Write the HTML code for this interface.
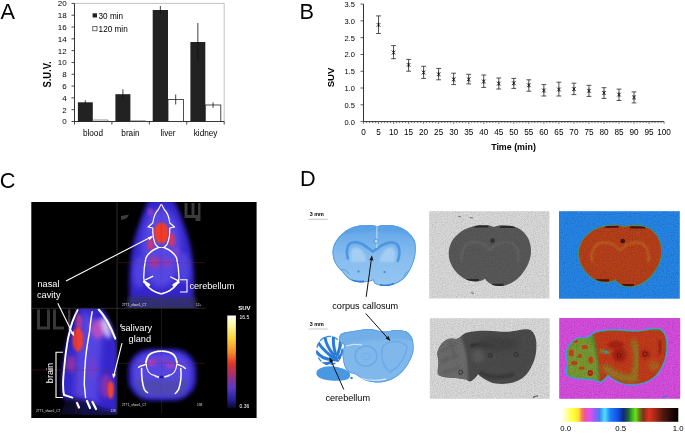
<!DOCTYPE html>
<html><head><meta charset="utf-8"><title>Figure</title>
<style>
html,body{margin:0;padding:0;background:#fff;}
body{width:685px;height:434px;overflow:hidden;font-family:"Liberation Sans",sans-serif;}
svg{display:block;}
text{font-family:"Liberation Sans",sans-serif;fill:#000;}
.pl{font-size:21.7px;fill:#000;}
.t7{font-size:7.5px;}
.t8{font-size:8.2px;}
.t9{font-size:9.15px;}
.b{font-weight:bold;}
.wt{fill:#fff;}
</style></head><body>
<svg width="685" height="434" viewBox="0 0 685 434">
<defs>
<filter id="bl1" x="-50%" y="-50%" width="200%" height="200%"><feGaussianBlur stdDeviation="1"/></filter>
<filter id="bl2" x="-50%" y="-50%" width="200%" height="200%"><feGaussianBlur stdDeviation="2"/></filter>
<filter id="bl3" x="-50%" y="-50%" width="200%" height="200%"><feGaussianBlur stdDeviation="3"/></filter>
<filter id="bl05" x="-50%" y="-50%" width="200%" height="200%"><feGaussianBlur stdDeviation="0.5"/></filter>
<linearGradient id="suvbar" x1="0" y1="0" x2="0" y2="1">
<stop offset="0" stop-color="#ffffff"/><stop offset="0.1" stop-color="#fff9a0"/><stop offset="0.25" stop-color="#ffd23a"/>
<stop offset="0.4" stop-color="#f58a2a"/><stop offset="0.52" stop-color="#e0352a"/><stop offset="0.65" stop-color="#a03078"/>
<stop offset="0.78" stop-color="#5a38c8"/><stop offset="0.9" stop-color="#2a22a0"/><stop offset="1" stop-color="#0a0830"/>
</linearGradient>
<linearGradient id="cbar" x1="0" y1="0" x2="1" y2="0"><stop offset="0.000" stop-color="#ffffff"/><stop offset="0.040" stop-color="#ffffa8"/><stop offset="0.105" stop-color="#ffff30"/><stop offset="0.146" stop-color="#ffe030"/><stop offset="0.170" stop-color="#f48a58"/><stop offset="0.200" stop-color="#f050a0"/><stop offset="0.244" stop-color="#e050f0"/><stop offset="0.285" stop-color="#9060f0"/><stop offset="0.325" stop-color="#4080f0"/><stop offset="0.370" stop-color="#50e0ff"/><stop offset="0.415" stop-color="#2080f8"/><stop offset="0.480" stop-color="#1050e8"/><stop offset="0.530" stop-color="#102880"/><stop offset="0.570" stop-color="#206030"/><stop offset="0.610" stop-color="#40c020"/><stop offset="0.634" stop-color="#70e010"/><stop offset="0.667" stop-color="#608020"/><stop offset="0.700" stop-color="#803018"/><stop offset="0.748" stop-color="#e03020"/><stop offset="0.805" stop-color="#a02818"/><stop offset="0.870" stop-color="#501810"/><stop offset="0.935" stop-color="#280808"/><stop offset="1.000" stop-color="#000000"/></linearGradient>
</defs>

<g id="panelA">
<text class="pl" x="0.6" y="19.3">A</text>
<path d="M74.5 3.4H224.2V121.5" fill="none" stroke="#999" stroke-width="0.6"/>
<path d="M74.5 3.4V121.5H224.2" fill="none" stroke="#333" stroke-width="1"/>
<line x1="71.5" y1="121.50" x2="74.5" y2="121.50" stroke="#333" stroke-width="0.9"/>
<text font-size="8" x="66.6" y="124.40" text-anchor="end">0</text>
<line x1="71.5" y1="109.69" x2="74.5" y2="109.69" stroke="#333" stroke-width="0.9"/>
<text font-size="8" x="66.6" y="112.59" text-anchor="end">2</text>
<line x1="71.5" y1="97.88" x2="74.5" y2="97.88" stroke="#333" stroke-width="0.9"/>
<text font-size="8" x="66.6" y="100.78" text-anchor="end">4</text>
<line x1="71.5" y1="86.07" x2="74.5" y2="86.07" stroke="#333" stroke-width="0.9"/>
<text font-size="8" x="66.6" y="88.97" text-anchor="end">6</text>
<line x1="71.5" y1="74.26" x2="74.5" y2="74.26" stroke="#333" stroke-width="0.9"/>
<text font-size="8" x="66.6" y="77.16" text-anchor="end">8</text>
<line x1="71.5" y1="62.45" x2="74.5" y2="62.45" stroke="#333" stroke-width="0.9"/>
<text font-size="8" x="66.6" y="65.35" text-anchor="end">10</text>
<line x1="71.5" y1="50.64" x2="74.5" y2="50.64" stroke="#333" stroke-width="0.9"/>
<text font-size="8" x="66.6" y="53.54" text-anchor="end">12</text>
<line x1="71.5" y1="38.83" x2="74.5" y2="38.83" stroke="#333" stroke-width="0.9"/>
<text font-size="8" x="66.6" y="41.73" text-anchor="end">14</text>
<line x1="71.5" y1="27.02" x2="74.5" y2="27.02" stroke="#333" stroke-width="0.9"/>
<text font-size="8" x="66.6" y="29.92" text-anchor="end">16</text>
<line x1="71.5" y1="15.21" x2="74.5" y2="15.21" stroke="#333" stroke-width="0.9"/>
<text font-size="8" x="66.6" y="18.11" text-anchor="end">18</text>
<line x1="71.5" y1="3.40" x2="74.5" y2="3.40" stroke="#333" stroke-width="0.9"/>
<text font-size="8" x="66.6" y="6.30" text-anchor="end">20</text>
<line x1="74.50" y1="121.5" x2="74.50" y2="124.5" stroke="#333" stroke-width="0.9"/>
<line x1="111.92" y1="121.5" x2="111.92" y2="124.5" stroke="#333" stroke-width="0.9"/>
<line x1="149.35" y1="121.5" x2="149.35" y2="124.5" stroke="#333" stroke-width="0.9"/>
<line x1="186.77" y1="121.5" x2="186.77" y2="124.5" stroke="#333" stroke-width="0.9"/>
<line x1="224.20" y1="121.5" x2="224.20" y2="124.5" stroke="#333" stroke-width="0.9"/>
<rect x="77.9" y="102.3" width="14.90" height="19.20" fill="#222"/>
<path d="M92.8 120.0H108V121.5" fill="none" stroke="#666" stroke-width="0.7"/>
<line x1="85.35" y1="100.3" x2="85.35" y2="104.3" stroke="#111" stroke-width="0.8"/>
<text class="t8" x="92.95" y="135.7" text-anchor="middle">blood</text>
<rect x="115.4" y="94.2" width="15.00" height="27.30" fill="#222"/>
<path d="M130.4 120.8H145.5V121.5" fill="none" stroke="#666" stroke-width="0.7"/>
<line x1="122.90" y1="89.3" x2="122.90" y2="99.0" stroke="#111" stroke-width="0.8"/>
<text class="t8" x="130.45" y="135.7" text-anchor="middle">brain</text>
<rect x="152.7" y="10.0" width="15.30" height="111.50" fill="#222"/>
<rect x="168" y="99.4" width="15.40" height="22.10" fill="#fff" stroke="#222" stroke-width="0.8"/>
<line x1="160.35" y1="6.0" x2="160.35" y2="14.0" stroke="#111" stroke-width="0.8"/>
<line x1="175.70" y1="94.5" x2="175.70" y2="104.5" stroke="#111" stroke-width="0.8"/>
<text class="t8" x="168.05" y="135.7" text-anchor="middle">liver</text>
<rect x="190.4" y="42.0" width="14.90" height="79.50" fill="#222"/>
<rect x="205.3" y="105.0" width="15.50" height="16.50" fill="#fff" stroke="#222" stroke-width="0.8"/>
<line x1="197.85" y1="23.0" x2="197.85" y2="61.5" stroke="#111" stroke-width="0.8"/>
<line x1="213.05" y1="102.3" x2="213.05" y2="107.8" stroke="#111" stroke-width="0.8"/>
<text class="t8" x="205.60" y="135.7" text-anchor="middle">kidney</text>
<rect x="92.6" y="13.3" width="4.4" height="4.2" fill="#222"/>
<text class="t8" x="98.5" y="18.8">30 min</text>
<rect x="92.8" y="26.4" width="4.2" height="4.4" fill="#fff" stroke="#333" stroke-width="0.7"/>
<text class="t8" x="98.6" y="31.7">120 min</text>
<text class="b" font-size="11" transform="translate(51.4 74.4) rotate(-90) scale(0.85 1)" text-anchor="middle">S.U.V.</text>
</g>
<g id="panelB">
<text class="pl" x="299.6" y="19.1">B</text>
<path d="M363.5 4.1V121.6H664.10" fill="none" stroke="#333" stroke-width="1"/>
<line x1="360.5" y1="121.60" x2="363.5" y2="121.60" stroke="#333" stroke-width="0.8"/>
<text x="354.9" y="124.60" font-size="7.5" text-anchor="end">0.0</text>
<line x1="360.5" y1="104.81" x2="363.5" y2="104.81" stroke="#333" stroke-width="0.8"/>
<text x="354.9" y="107.81" font-size="7.5" text-anchor="end">0.5</text>
<line x1="360.5" y1="88.03" x2="363.5" y2="88.03" stroke="#333" stroke-width="0.8"/>
<text x="354.9" y="91.03" font-size="7.5" text-anchor="end">1.0</text>
<line x1="360.5" y1="71.24" x2="363.5" y2="71.24" stroke="#333" stroke-width="0.8"/>
<text x="354.9" y="74.24" font-size="7.5" text-anchor="end">1.5</text>
<line x1="360.5" y1="54.46" x2="363.5" y2="54.46" stroke="#333" stroke-width="0.8"/>
<text x="354.9" y="57.46" font-size="7.5" text-anchor="end">2.0</text>
<line x1="360.5" y1="37.67" x2="363.5" y2="37.67" stroke="#333" stroke-width="0.8"/>
<text x="354.9" y="40.67" font-size="7.5" text-anchor="end">2.5</text>
<line x1="360.5" y1="20.89" x2="363.5" y2="20.89" stroke="#333" stroke-width="0.8"/>
<text x="354.9" y="23.89" font-size="7.5" text-anchor="end">3.0</text>
<line x1="360.5" y1="4.10" x2="363.5" y2="4.10" stroke="#333" stroke-width="0.8"/>
<text x="354.9" y="7.10" font-size="7.5" text-anchor="end">3.5</text>
<line x1="363.50" y1="121.6" x2="363.50" y2="124.0" stroke="#333" stroke-width="0.6"/>
<line x1="366.51" y1="121.6" x2="366.51" y2="123.1" stroke="#333" stroke-width="0.6"/>
<line x1="369.51" y1="121.6" x2="369.51" y2="123.1" stroke="#333" stroke-width="0.6"/>
<line x1="372.52" y1="121.6" x2="372.52" y2="123.1" stroke="#333" stroke-width="0.6"/>
<line x1="375.52" y1="121.6" x2="375.52" y2="123.1" stroke="#333" stroke-width="0.6"/>
<line x1="378.53" y1="121.6" x2="378.53" y2="124.0" stroke="#333" stroke-width="0.6"/>
<line x1="381.54" y1="121.6" x2="381.54" y2="123.1" stroke="#333" stroke-width="0.6"/>
<line x1="384.54" y1="121.6" x2="384.54" y2="123.1" stroke="#333" stroke-width="0.6"/>
<line x1="387.55" y1="121.6" x2="387.55" y2="123.1" stroke="#333" stroke-width="0.6"/>
<line x1="390.55" y1="121.6" x2="390.55" y2="123.1" stroke="#333" stroke-width="0.6"/>
<line x1="393.56" y1="121.6" x2="393.56" y2="124.0" stroke="#333" stroke-width="0.6"/>
<line x1="396.57" y1="121.6" x2="396.57" y2="123.1" stroke="#333" stroke-width="0.6"/>
<line x1="399.57" y1="121.6" x2="399.57" y2="123.1" stroke="#333" stroke-width="0.6"/>
<line x1="402.58" y1="121.6" x2="402.58" y2="123.1" stroke="#333" stroke-width="0.6"/>
<line x1="405.58" y1="121.6" x2="405.58" y2="123.1" stroke="#333" stroke-width="0.6"/>
<line x1="408.59" y1="121.6" x2="408.59" y2="124.0" stroke="#333" stroke-width="0.6"/>
<line x1="411.60" y1="121.6" x2="411.60" y2="123.1" stroke="#333" stroke-width="0.6"/>
<line x1="414.60" y1="121.6" x2="414.60" y2="123.1" stroke="#333" stroke-width="0.6"/>
<line x1="417.61" y1="121.6" x2="417.61" y2="123.1" stroke="#333" stroke-width="0.6"/>
<line x1="420.61" y1="121.6" x2="420.61" y2="123.1" stroke="#333" stroke-width="0.6"/>
<line x1="423.62" y1="121.6" x2="423.62" y2="124.0" stroke="#333" stroke-width="0.6"/>
<line x1="426.63" y1="121.6" x2="426.63" y2="123.1" stroke="#333" stroke-width="0.6"/>
<line x1="429.63" y1="121.6" x2="429.63" y2="123.1" stroke="#333" stroke-width="0.6"/>
<line x1="432.64" y1="121.6" x2="432.64" y2="123.1" stroke="#333" stroke-width="0.6"/>
<line x1="435.64" y1="121.6" x2="435.64" y2="123.1" stroke="#333" stroke-width="0.6"/>
<line x1="438.65" y1="121.6" x2="438.65" y2="124.0" stroke="#333" stroke-width="0.6"/>
<line x1="441.66" y1="121.6" x2="441.66" y2="123.1" stroke="#333" stroke-width="0.6"/>
<line x1="444.66" y1="121.6" x2="444.66" y2="123.1" stroke="#333" stroke-width="0.6"/>
<line x1="447.67" y1="121.6" x2="447.67" y2="123.1" stroke="#333" stroke-width="0.6"/>
<line x1="450.67" y1="121.6" x2="450.67" y2="123.1" stroke="#333" stroke-width="0.6"/>
<line x1="453.68" y1="121.6" x2="453.68" y2="124.0" stroke="#333" stroke-width="0.6"/>
<line x1="456.69" y1="121.6" x2="456.69" y2="123.1" stroke="#333" stroke-width="0.6"/>
<line x1="459.69" y1="121.6" x2="459.69" y2="123.1" stroke="#333" stroke-width="0.6"/>
<line x1="462.70" y1="121.6" x2="462.70" y2="123.1" stroke="#333" stroke-width="0.6"/>
<line x1="465.70" y1="121.6" x2="465.70" y2="123.1" stroke="#333" stroke-width="0.6"/>
<line x1="468.71" y1="121.6" x2="468.71" y2="124.0" stroke="#333" stroke-width="0.6"/>
<line x1="471.72" y1="121.6" x2="471.72" y2="123.1" stroke="#333" stroke-width="0.6"/>
<line x1="474.72" y1="121.6" x2="474.72" y2="123.1" stroke="#333" stroke-width="0.6"/>
<line x1="477.73" y1="121.6" x2="477.73" y2="123.1" stroke="#333" stroke-width="0.6"/>
<line x1="480.73" y1="121.6" x2="480.73" y2="123.1" stroke="#333" stroke-width="0.6"/>
<line x1="483.74" y1="121.6" x2="483.74" y2="124.0" stroke="#333" stroke-width="0.6"/>
<line x1="486.75" y1="121.6" x2="486.75" y2="123.1" stroke="#333" stroke-width="0.6"/>
<line x1="489.75" y1="121.6" x2="489.75" y2="123.1" stroke="#333" stroke-width="0.6"/>
<line x1="492.76" y1="121.6" x2="492.76" y2="123.1" stroke="#333" stroke-width="0.6"/>
<line x1="495.76" y1="121.6" x2="495.76" y2="123.1" stroke="#333" stroke-width="0.6"/>
<line x1="498.77" y1="121.6" x2="498.77" y2="124.0" stroke="#333" stroke-width="0.6"/>
<line x1="501.78" y1="121.6" x2="501.78" y2="123.1" stroke="#333" stroke-width="0.6"/>
<line x1="504.78" y1="121.6" x2="504.78" y2="123.1" stroke="#333" stroke-width="0.6"/>
<line x1="507.79" y1="121.6" x2="507.79" y2="123.1" stroke="#333" stroke-width="0.6"/>
<line x1="510.79" y1="121.6" x2="510.79" y2="123.1" stroke="#333" stroke-width="0.6"/>
<line x1="513.80" y1="121.6" x2="513.80" y2="124.0" stroke="#333" stroke-width="0.6"/>
<line x1="516.81" y1="121.6" x2="516.81" y2="123.1" stroke="#333" stroke-width="0.6"/>
<line x1="519.81" y1="121.6" x2="519.81" y2="123.1" stroke="#333" stroke-width="0.6"/>
<line x1="522.82" y1="121.6" x2="522.82" y2="123.1" stroke="#333" stroke-width="0.6"/>
<line x1="525.82" y1="121.6" x2="525.82" y2="123.1" stroke="#333" stroke-width="0.6"/>
<line x1="528.83" y1="121.6" x2="528.83" y2="124.0" stroke="#333" stroke-width="0.6"/>
<line x1="531.84" y1="121.6" x2="531.84" y2="123.1" stroke="#333" stroke-width="0.6"/>
<line x1="534.84" y1="121.6" x2="534.84" y2="123.1" stroke="#333" stroke-width="0.6"/>
<line x1="537.85" y1="121.6" x2="537.85" y2="123.1" stroke="#333" stroke-width="0.6"/>
<line x1="540.85" y1="121.6" x2="540.85" y2="123.1" stroke="#333" stroke-width="0.6"/>
<line x1="543.86" y1="121.6" x2="543.86" y2="124.0" stroke="#333" stroke-width="0.6"/>
<line x1="546.87" y1="121.6" x2="546.87" y2="123.1" stroke="#333" stroke-width="0.6"/>
<line x1="549.87" y1="121.6" x2="549.87" y2="123.1" stroke="#333" stroke-width="0.6"/>
<line x1="552.88" y1="121.6" x2="552.88" y2="123.1" stroke="#333" stroke-width="0.6"/>
<line x1="555.88" y1="121.6" x2="555.88" y2="123.1" stroke="#333" stroke-width="0.6"/>
<line x1="558.89" y1="121.6" x2="558.89" y2="124.0" stroke="#333" stroke-width="0.6"/>
<line x1="561.90" y1="121.6" x2="561.90" y2="123.1" stroke="#333" stroke-width="0.6"/>
<line x1="564.90" y1="121.6" x2="564.90" y2="123.1" stroke="#333" stroke-width="0.6"/>
<line x1="567.91" y1="121.6" x2="567.91" y2="123.1" stroke="#333" stroke-width="0.6"/>
<line x1="570.91" y1="121.6" x2="570.91" y2="123.1" stroke="#333" stroke-width="0.6"/>
<line x1="573.92" y1="121.6" x2="573.92" y2="124.0" stroke="#333" stroke-width="0.6"/>
<line x1="576.93" y1="121.6" x2="576.93" y2="123.1" stroke="#333" stroke-width="0.6"/>
<line x1="579.93" y1="121.6" x2="579.93" y2="123.1" stroke="#333" stroke-width="0.6"/>
<line x1="582.94" y1="121.6" x2="582.94" y2="123.1" stroke="#333" stroke-width="0.6"/>
<line x1="585.94" y1="121.6" x2="585.94" y2="123.1" stroke="#333" stroke-width="0.6"/>
<line x1="588.95" y1="121.6" x2="588.95" y2="124.0" stroke="#333" stroke-width="0.6"/>
<line x1="591.96" y1="121.6" x2="591.96" y2="123.1" stroke="#333" stroke-width="0.6"/>
<line x1="594.96" y1="121.6" x2="594.96" y2="123.1" stroke="#333" stroke-width="0.6"/>
<line x1="597.97" y1="121.6" x2="597.97" y2="123.1" stroke="#333" stroke-width="0.6"/>
<line x1="600.97" y1="121.6" x2="600.97" y2="123.1" stroke="#333" stroke-width="0.6"/>
<line x1="603.98" y1="121.6" x2="603.98" y2="124.0" stroke="#333" stroke-width="0.6"/>
<line x1="606.99" y1="121.6" x2="606.99" y2="123.1" stroke="#333" stroke-width="0.6"/>
<line x1="609.99" y1="121.6" x2="609.99" y2="123.1" stroke="#333" stroke-width="0.6"/>
<line x1="613.00" y1="121.6" x2="613.00" y2="123.1" stroke="#333" stroke-width="0.6"/>
<line x1="616.00" y1="121.6" x2="616.00" y2="123.1" stroke="#333" stroke-width="0.6"/>
<line x1="619.01" y1="121.6" x2="619.01" y2="124.0" stroke="#333" stroke-width="0.6"/>
<line x1="622.02" y1="121.6" x2="622.02" y2="123.1" stroke="#333" stroke-width="0.6"/>
<line x1="625.02" y1="121.6" x2="625.02" y2="123.1" stroke="#333" stroke-width="0.6"/>
<line x1="628.03" y1="121.6" x2="628.03" y2="123.1" stroke="#333" stroke-width="0.6"/>
<line x1="631.03" y1="121.6" x2="631.03" y2="123.1" stroke="#333" stroke-width="0.6"/>
<line x1="634.04" y1="121.6" x2="634.04" y2="124.0" stroke="#333" stroke-width="0.6"/>
<line x1="637.05" y1="121.6" x2="637.05" y2="123.1" stroke="#333" stroke-width="0.6"/>
<line x1="640.05" y1="121.6" x2="640.05" y2="123.1" stroke="#333" stroke-width="0.6"/>
<line x1="643.06" y1="121.6" x2="643.06" y2="123.1" stroke="#333" stroke-width="0.6"/>
<line x1="646.06" y1="121.6" x2="646.06" y2="123.1" stroke="#333" stroke-width="0.6"/>
<line x1="649.07" y1="121.6" x2="649.07" y2="124.0" stroke="#333" stroke-width="0.6"/>
<line x1="652.08" y1="121.6" x2="652.08" y2="123.1" stroke="#333" stroke-width="0.6"/>
<line x1="655.08" y1="121.6" x2="655.08" y2="123.1" stroke="#333" stroke-width="0.6"/>
<line x1="658.09" y1="121.6" x2="658.09" y2="123.1" stroke="#333" stroke-width="0.6"/>
<line x1="661.09" y1="121.6" x2="661.09" y2="123.1" stroke="#333" stroke-width="0.6"/>
<line x1="664.10" y1="121.6" x2="664.10" y2="124.0" stroke="#333" stroke-width="0.6"/>
<text font-size="8.2" x="363.50" y="135" text-anchor="middle">0</text>
<text font-size="8.2" x="378.53" y="135" text-anchor="middle">5</text>
<text font-size="8.2" x="393.56" y="135" text-anchor="middle">10</text>
<text font-size="8.2" x="408.59" y="135" text-anchor="middle">15</text>
<text font-size="8.2" x="423.62" y="135" text-anchor="middle">20</text>
<text font-size="8.2" x="438.65" y="135" text-anchor="middle">25</text>
<text font-size="8.2" x="453.68" y="135" text-anchor="middle">30</text>
<text font-size="8.2" x="468.71" y="135" text-anchor="middle">35</text>
<text font-size="8.2" x="483.74" y="135" text-anchor="middle">40</text>
<text font-size="8.2" x="498.77" y="135" text-anchor="middle">45</text>
<text font-size="8.2" x="513.80" y="135" text-anchor="middle">50</text>
<text font-size="8.2" x="528.83" y="135" text-anchor="middle">55</text>
<text font-size="8.2" x="543.86" y="135" text-anchor="middle">60</text>
<text font-size="8.2" x="558.89" y="135" text-anchor="middle">65</text>
<text font-size="8.2" x="573.92" y="135" text-anchor="middle">70</text>
<text font-size="8.2" x="588.95" y="135" text-anchor="middle">75</text>
<text font-size="8.2" x="603.98" y="135" text-anchor="middle">80</text>
<text font-size="8.2" x="619.01" y="135" text-anchor="middle">85</text>
<text font-size="8.2" x="634.04" y="135" text-anchor="middle">90</text>
<text font-size="8.2" x="649.07" y="135" text-anchor="middle">95</text>
<text font-size="8.2" x="664.10" y="135" text-anchor="middle">100</text>
<path d="M378.53 15.9V33.5M376.13 15.9h4.8M376.13 33.5h4.8" stroke="#333" stroke-width="0.85" fill="none"/>
<path d="M376.63 23.0l3.8 3.8M376.63 26.799999999999997l3.8 -3.8M378.53 22.599999999999998v4.6" stroke="#111" stroke-width="0.8" fill="none"/>
<path d="M393.56 45.6V58.7M391.16 45.6h4.8M391.16 58.7h4.8" stroke="#333" stroke-width="0.85" fill="none"/>
<path d="M391.66 50.6l3.8 3.8M391.66 54.4l3.8 -3.8M393.56 50.2v4.6" stroke="#111" stroke-width="0.8" fill="none"/>
<path d="M408.59 59.4V71.2M406.19 59.4h4.8M406.19 71.2h4.8" stroke="#333" stroke-width="0.85" fill="none"/>
<path d="M406.69 63.00000000000001l3.8 3.8M406.69 66.80000000000001l3.8 -3.8M408.59 62.60000000000001v4.6" stroke="#111" stroke-width="0.8" fill="none"/>
<path d="M423.62 66.3V78.4M421.22 66.3h4.8M421.22 78.4h4.8" stroke="#333" stroke-width="0.85" fill="none"/>
<path d="M421.72 70.6l3.8 3.8M421.72 74.4l3.8 -3.8M423.62 70.2v4.6" stroke="#111" stroke-width="0.8" fill="none"/>
<path d="M438.65 68.4V79.8M436.25 68.4h4.8M436.25 79.8h4.8" stroke="#333" stroke-width="0.85" fill="none"/>
<path d="M436.75 72.39999999999999l3.8 3.8M436.75 76.2l3.8 -3.8M438.65 72.0v4.6" stroke="#111" stroke-width="0.8" fill="none"/>
<path d="M453.68 73.2V84.6M451.28 73.2h4.8M451.28 84.6h4.8" stroke="#333" stroke-width="0.85" fill="none"/>
<path d="M451.78 77.5l3.8 3.8M451.78 81.30000000000001l3.8 -3.8M453.68 77.10000000000001v4.6" stroke="#111" stroke-width="0.8" fill="none"/>
<path d="M468.71 74.3V83.9M466.31 74.3h4.8M466.31 83.9h4.8" stroke="#333" stroke-width="0.85" fill="none"/>
<path d="M466.81 77.5l3.8 3.8M466.81 81.30000000000001l3.8 -3.8M468.71 77.10000000000001v4.6" stroke="#111" stroke-width="0.8" fill="none"/>
<path d="M483.74 75V87.4M481.34 75h4.8M481.34 87.4h4.8" stroke="#333" stroke-width="0.85" fill="none"/>
<path d="M481.84 79.6l3.8 3.8M481.84 83.4l3.8 -3.8M483.74 79.2v4.6" stroke="#111" stroke-width="0.8" fill="none"/>
<path d="M498.77 78V89M496.37 78h4.8M496.37 89h4.8" stroke="#333" stroke-width="0.85" fill="none"/>
<path d="M496.87 81.69999999999999l3.8 3.8M496.87 85.5l3.8 -3.8M498.77 81.3v4.6" stroke="#111" stroke-width="0.8" fill="none"/>
<path d="M513.80 78.4V88.4M511.40 78.4h4.8M511.40 88.4h4.8" stroke="#333" stroke-width="0.85" fill="none"/>
<path d="M511.90 81.3l3.8 3.8M511.90 85.10000000000001l3.8 -3.8M513.80 80.9v4.6" stroke="#111" stroke-width="0.8" fill="none"/>
<path d="M528.83 79.8V91.2M526.43 79.8h4.8M526.43 91.2h4.8" stroke="#333" stroke-width="0.85" fill="none"/>
<path d="M526.93 83.39999999999999l3.8 3.8M526.93 87.2l3.8 -3.8M528.83 83.0v4.6" stroke="#111" stroke-width="0.8" fill="none"/>
<path d="M543.86 84.6V96M541.46 84.6h4.8M541.46 96h4.8" stroke="#333" stroke-width="0.85" fill="none"/>
<path d="M541.96 88.6l3.8 3.8M541.96 92.4l3.8 -3.8M543.86 88.2v4.6" stroke="#111" stroke-width="0.8" fill="none"/>
<path d="M558.89 82.2V96M556.49 82.2h4.8M556.49 96h4.8" stroke="#333" stroke-width="0.85" fill="none"/>
<path d="M556.99 87.6l3.8 3.8M556.99 91.4l3.8 -3.8M558.89 87.2v4.6" stroke="#111" stroke-width="0.8" fill="none"/>
<path d="M573.92 83.2V94.6M571.52 83.2h4.8M571.52 94.6h4.8" stroke="#333" stroke-width="0.85" fill="none"/>
<path d="M572.02 87.19999999999999l3.8 3.8M572.02 91.0l3.8 -3.8M573.92 86.8v4.6" stroke="#111" stroke-width="0.8" fill="none"/>
<path d="M588.95 85.3V96.4M586.55 85.3h4.8M586.55 96.4h4.8" stroke="#333" stroke-width="0.85" fill="none"/>
<path d="M587.05 88.89999999999999l3.8 3.8M587.05 92.7l3.8 -3.8M588.95 88.5v4.6" stroke="#111" stroke-width="0.8" fill="none"/>
<path d="M603.98 87.7V98.4M601.58 87.7h4.8M601.58 98.4h4.8" stroke="#333" stroke-width="0.85" fill="none"/>
<path d="M602.08 91.0l3.8 3.8M602.08 94.80000000000001l3.8 -3.8M603.98 90.60000000000001v4.6" stroke="#111" stroke-width="0.8" fill="none"/>
<path d="M619.01 89.1V100.5M616.61 89.1h4.8M616.61 100.5h4.8" stroke="#333" stroke-width="0.85" fill="none"/>
<path d="M617.11 92.69999999999999l3.8 3.8M617.11 96.5l3.8 -3.8M619.01 92.3v4.6" stroke="#111" stroke-width="0.8" fill="none"/>
<path d="M634.04 91.9V102.9M631.64 91.9h4.8M631.64 102.9h4.8" stroke="#333" stroke-width="0.85" fill="none"/>
<path d="M632.14 95.5l3.8 3.8M632.14 99.30000000000001l3.8 -3.8M634.04 95.10000000000001v4.6" stroke="#111" stroke-width="0.8" fill="none"/>
<text class="b" font-size="9.6" transform="translate(334.1 77.5) rotate(-90)" text-anchor="middle">SUV</text>
<text class="b" font-size="8.9" x="513.5" y="149.6" text-anchor="middle">Time (min)</text>
</g><g id="panelC">
<text class="pl" x="-0.2" y="188.2">C</text>
<rect x="31.3" y="202" width="225.3" height="216" fill="#000"/>
<clipPath id="cTR"><rect x="117.5" y="202" width="88" height="106"/></clipPath>
<clipPath id="cBL"><rect x="31.3" y="308.5" width="85.5" height="106"/></clipPath>
<clipPath id="cBR"><rect x="117.5" y="308.5" width="88" height="106"/></clipPath>
<g clip-path="url(#cTR)">
<path d="M184.5 203h3v12h4v-12h3v12h3.5v-12h2.5v18h-5v-3h-11z" fill="#3a3a3a" filter="url(#bl05)"/>
<path d="M121 216l8 -1.5l-2.5 4l-5.5 1.5z" fill="#3c3c3c" filter="url(#bl05)"/>
<path d="M148 201 C152 198.5 170 198.5 174 201 C178 208 181 215 183 222 C186 230 189 238 190.5 247 C193 260 194.5 272 194 285 L193 310 L130 310 L129.5 285 C129 272 130.5 260 132.5 247 C134 238 137 230 140 222 C142 215 145 208 148 201Z" fill="#3426cc" filter="url(#bl2)"/>
<ellipse cx="161" cy="248" rx="20" ry="40" fill="#6252ec" opacity="0.75" filter="url(#bl3)"/>
<ellipse cx="139" cy="272" rx="6" ry="16" fill="#6252ec" opacity="0.6" filter="url(#bl2)"/>
<ellipse cx="184" cy="268" rx="6" ry="16" fill="#6252ec" opacity="0.6" filter="url(#bl2)"/>
<path d="M128 297 L196 297 L198 312 L126 312Z" fill="#30305a" opacity="0.8" filter="url(#bl2)"/>
<ellipse cx="150.5" cy="212" rx="3" ry="4" fill="#9a44c4" opacity="0.7" filter="url(#bl1)"/>
<ellipse cx="176" cy="252" rx="4" ry="6" fill="#8a40c8" opacity="0.6" filter="url(#bl1)"/>
<ellipse cx="150.6" cy="244.3" rx="3.2" ry="6" fill="#c43874" filter="url(#bl1)"/>
<ellipse cx="171.6" cy="240" rx="3.8" ry="7" fill="#c43874" filter="url(#bl1)"/>
<ellipse cx="161.3" cy="233" rx="7.4" ry="10.5" fill="#f03c2c" filter="url(#bl1)"/>
<ellipse cx="154.5" cy="262" rx="5.5" ry="6" fill="#b03490" opacity="0.85" filter="url(#bl2)"/>
<ellipse cx="167" cy="263" rx="5" ry="5" fill="#9a38b0" opacity="0.7" filter="url(#bl2)"/>
<g fill="none" stroke="#fff" stroke-linecap="round" stroke-linejoin="round" filter="url(#bl05)">
<path d="M161 204.5 L158.2 209.7 C155.5 212 153.6 217 152.8 223 L148 227 L152.8 228 C152.5 234 153.5 240 155.5 244.5 L158.5 247.5" stroke-width="1.15"/>
<path d="M161.6 204.5 L164.4 209.7 C167 212 169 217 169.8 223 L174.6 227 L169.8 228 C170 234 169 240 167 244.5 L164 247.5" stroke-width="1.15"/>
<path d="M158.5 247.5 C152 250 147.5 254 145.8 258.3 C144.5 264 143.8 271 143.7 277.7 L144.4 281.8" stroke-width="1.35"/>
<path d="M164 247.5 C170.5 250 175 254 176.7 258.3 C178 264 178.8 271 179 277.7 L178.3 282.5" stroke-width="1.35"/>
<path d="M158.5 247.5 H164" stroke-width="1.2"/>
<path d="M146 284.5 C149 288.5 155 292.5 161.3 293.8 C167.5 292.5 173.5 288.5 176.5 284.5" stroke-width="1.7"/>
<path d="M144.4 281.8 l4.5 3 M178.3 282.2 l-4.5 3" stroke-width="2.8"/>
<path d="M145.8 279.7 L152.7 276.3 M170.7 277 L177.6 280.4" stroke-width="1.3"/>
</g>
<path d="M161.3 202V308M117.5 262.7H205.5" stroke="#8a2838" stroke-width="0.4" opacity="0.8" fill="none"/>
</g>
<g clip-path="url(#cBL)">
<path d="M37 309.5h3v17h7v-17h3v20h-13z M53 309.5h3v17h8v3h-11z M68 309.5h2.5v21h-2.5z" fill="#383838" filter="url(#bl05)"/>
<path d="M79 306 C73 320 67 338 64 358 C61 376 61 390 63 399 L75 402 L82 416 L118 416 L118 346 C114 330 108 316 100 306Z" fill="#3426cc" filter="url(#bl2)"/>
<path d="M84 309 C78 330 74 360 74 396 L98 404 L103 330 Z" fill="#6252ec" opacity="0.7" filter="url(#bl3)"/>
<path d="M66 398 L84 400 L100 408 L118 412 L118 418 L60 418Z" fill="#0c0a30" opacity="0.85" filter="url(#bl2)"/>
<ellipse cx="98" cy="329" rx="7" ry="10" fill="#c050c0" opacity="0.9" filter="url(#bl2)"/>
<ellipse cx="106" cy="328" rx="4" ry="11" fill="#e8e0ff" opacity="0.8" filter="url(#bl2)" transform="rotate(-18 106 328)"/>
<ellipse cx="71" cy="364" rx="4.5" ry="8" fill="#a83498" opacity="0.8" filter="url(#bl2)"/>
<ellipse cx="92" cy="368" rx="5" ry="12" fill="#7a3cc8" opacity="0.6" filter="url(#bl2)"/>
<ellipse cx="79" cy="322" rx="3.5" ry="8" fill="#b83c90" opacity="0.8" filter="url(#bl1)"/>
<ellipse cx="78" cy="339.4" rx="5.4" ry="12" fill="#ec3c30" filter="url(#bl1)"/>
<ellipse cx="106" cy="386" rx="6" ry="12" fill="#a834a0" opacity="0.7" filter="url(#bl2)"/>
<ellipse cx="110.7" cy="390" rx="3" ry="9" fill="#f4442c" filter="url(#bl1)"/>
<g fill="none" stroke="#fff" stroke-linecap="round" filter="url(#bl05)">
<path d="M77.6 310 C73.5 318 71 325 69.7 331.5 C68.5 336 67.6 340 67 344.7 C65.8 352 65 359 64.4 366 C63.6 373 63.1 379 63.1 384.4 C63.1 389 63.3 392 64 395 L72.4 397.6" stroke-width="1.9"/>
<path d="M92.2 311.6 C91 318 90.2 325 89.6 331.5 C88 340 86.5 349 85.6 358 C84.8 367 84.3 376 84.3 384.4 L85.6 397.6" stroke-width="1.4"/>
<path d="M98.7 309.5 C104 315 110 325 115.3 338.7" stroke-width="2.2" opacity="0.95"/>
<path d="M77 403 l2 4.5 M87 401 l3 7 M92.5 402 l3.5 7" stroke-width="2.2"/>
</g>
<path d="M76 308.5V414.5M31.3 370H116.8" stroke="#8a2838" stroke-width="0.4" opacity="0.8" fill="none"/>
</g>
<g clip-path="url(#cBR)">
<rect x="128.5" y="349" width="67.5" height="51.5" rx="23" ry="21" fill="#3426cc" filter="url(#bl2)"/>
<rect x="133" y="352.5" width="58" height="44" rx="20" ry="18" fill="#5e50e6" opacity="0.8" filter="url(#bl2)"/>
<path d="M134 380 H190 L184 396 H140Z" fill="#4a4a98" opacity="0.6" filter="url(#bl2)"/>
<ellipse cx="152" cy="362.7" rx="5" ry="3.6" fill="#b040c0" opacity="0.85" filter="url(#bl1)"/>
<ellipse cx="170" cy="365.5" rx="4.6" ry="3.4" fill="#a040c4" opacity="0.8" filter="url(#bl1)"/>
<ellipse cx="161" cy="360" rx="9" ry="4" fill="#7a40d0" opacity="0.6" filter="url(#bl1)"/>
<g fill="none" stroke="#fff" stroke-linecap="round" stroke-linejoin="round" filter="url(#bl05)">
<path d="M145.9 362.5 C146.3 359.8 147.2 357.4 148.5 355.5 C151.5 352.5 156.5 351.2 161.5 351.2 C166.5 351.2 171.4 352.5 174.4 355.5 C175.7 357.4 176.6 359.8 177 362.5" stroke-width="1.8"/>
<path d="M145.9 362.5 C146.2 366 147 369.5 148.5 372 C150 374 152.2 375 154.5 375.4 L158.5 376.8 M164.5 376.8 L168.4 375.4 C170.7 375 173 374 174.4 372 C176 369.5 176.7 366 177 362.5" stroke-width="1.1"/>
<path d="M138.7 367.3 C140 366.2 141.3 365.8 142.5 365.6 L145.9 364.2 M177 364.2 L181.3 365.9 C182.8 366.5 184.2 367.4 185.3 368.5" stroke-width="1.5"/>
<path d="M141.6 368.5 C141.4 372 141.7 376 142.1 379.7 C142.5 383 143.2 386.3 144.2 389.2 C145 390.8 146.2 392 147.6 392.7" stroke-width="1.5"/>
<path d="M180.8 368.5 C181.2 372 181.1 376 180.8 379.7 C180.4 383 179.7 386.3 178.7 389.2 C177.8 391 176.6 392.5 175.3 393.5" stroke-width="1.5"/>
<path d="M155 376.5 l3.5 1 M165 377.2 l4 -1.2" stroke-width="0.9"/>
</g>
<ellipse cx="161.5" cy="377" rx="2" ry="1.5" fill="#2014a8"/>
<path d="M161.5 308.5V414.5M117.5 363.3H205.5" stroke="#8a2838" stroke-width="0.4" opacity="0.8" fill="none"/>
</g>
<path d="M117 202V414.5M31.3 308.3H205.5" stroke="#3c3c3c" stroke-width="0.7" fill="none"/>
<text x="122" y="305.6" font-size="3.2" class="wt" opacity="0.85">2TT1_shaw1_CT</text>
<text x="196" y="305.6" font-size="3.2" class="wt" opacity="0.85">12+</text>
<text x="36" y="412" font-size="3.2" class="wt" opacity="0.85">2TT1_shaw1_CT</text>
<text x="122" y="405.5" font-size="3.2" class="wt" opacity="0.85">2TT1_shaw1_CT</text>
<text x="197" y="405.5" font-size="3.2" class="wt" opacity="0.85">158</text>
<text x="110.5" y="412" font-size="3.2" class="wt" opacity="0.85">128</text>
<rect x="227.3" y="315.5" width="8.6" height="92.5" fill="url(#suvbar)"/>
<text x="238.2" y="310.2" font-size="6" class="wt b">SUV</text>
<text x="239.5" y="319.3" font-size="5" class="wt">16.5</text>
<text x="239.5" y="408" font-size="5" class="wt">0.36</text>
<g class="wt" font-size="9.2">
<text x="37.5" y="286.6" class="wt">nasal</text>
<text x="37" y="297.6" class="wt">cavity</text>
<text x="189.4" y="289.4" class="wt">cerebellum</text>
<text x="120.9" y="330.7" class="wt">salivary</text>
<text x="128.6" y="341.5" class="wt">gland</text>
<text transform="translate(53.4 373) rotate(-90)" text-anchor="middle" class="wt">brain</text>
</g>
<g stroke="#fff" fill="none" stroke-width="1.1">
<path d="M66 281 L152 236.5"/>
<path d="M57.8 303.3 L73 334.3"/>
<path d="M122 343.2 L113.7 376.5 M121.2 324 l-0.5 3"/>
<path d="M180 279.8H187V292H180"/>
<path d="M63 352.2H56V397.5H63"/>
</g>
<g fill="#fff">
<path d="M153.5 235.7 L149.5 240.2 L148 237.2Z"/>
<path d="M74 336.3 L70.3 332.8 L73.7 331.2Z"/>
<path d="M113.2 378.6 L112.2 373.6 L115.8 374.5Z"/>
</g>
</g><g id="panelD">
<text class="pl" x="299.9" y="185.9">D</text>
<defs><path id="cor" d="M494.2 226.9 C490 225.2 486 225 482.6 225.3 C478 225.3 474 226 471.1 226.9 C466 228.5 462.5 230.3 459.6 232.7 C455.5 236 453 239 451.5 241.9 C449.5 246 448.7 250 448.7 253.4 C448.7 258 450 262 451.5 264.9 C453.5 269 456.5 272.5 459.6 275.3 C462.5 277.8 465.5 279.5 468.8 280.6 C472 281.6 475 281.8 478 281.5 C480.5 281.2 483 280 484.9 278.8 C486.5 281 489 283.3 491.8 284.5 C495 285.9 498 286.2 501.1 286.1 C505 285.8 509 284.3 512.6 282.2 C516 280.2 519.3 277.4 521.8 274.2 C524.8 270.6 527.2 266.8 528.7 262.6 C530.2 258.8 531 255 531 251.1 C531 247 530.2 243 528.7 239.6 C527.2 236 524.8 233 521.8 230.4 C519 228.2 516 227 512.6 226.2 C508.5 225.3 505 225.1 501.1 225.3 C498.5 225.5 496 226 494.2 226.9Z"/><path id="sag" d="M460.2 336.9 C462 335 464 333.7 466.5 332.7 C473 330.8 480 330.6 487.2 330.7 C494 330.8 501 332 508 331.7 C512 331.5 515 330.7 518.3 330.2 C522 329.6 525.5 329 528.7 329.6 C531 330.2 533 331.7 533.9 333.8 C535.5 336.8 536.2 340 536.3 343.1 C536.5 346.5 536.3 350 535.9 353.5 C535.3 357 534.3 360.5 532.8 363.8 C531.2 367.5 529.2 371 526.6 374.2 C524.3 376.8 521.5 378.9 518.3 380.4 C515 381.9 511.5 383 508 383.5 C504 384 499.5 384 495.5 383.5 C491.8 382.8 488.3 381.3 485.1 379.4 C482.5 377.8 480 376 477.9 374.2 C477 376 476 377.3 474.8 378.3 C473.5 379.6 472 380.8 470.6 381.5 C469 381.3 467.6 380.5 466.5 379.4 C463.8 379.3 461 378.7 458.2 378.3 C454 377.8 449.8 377.9 445.7 377.3 C442.8 376.8 439.7 376 437.9 374.2 C437.3 370.8 438 367.3 438.5 363.8 C438.8 360.4 437.3 357 437.4 353.5 C437.6 350.5 438.8 347.7 440.5 345.2 C442.3 342.6 444.9 340.4 447.8 339 C450.5 338.2 453.3 338.4 456.1 339 C457.7 338.6 459 337.8 460.2 336.9Z"/>
<filter id="nz" x="0" y="0" width="100%" height="100%"><feTurbulence type="fractalNoise" baseFrequency="0.9" numOctaves="2" seed="3" result="n"/><feColorMatrix in="n" type="matrix" values="0 0 0 0 0  0 0 0 0 0  0 0 0 0 0  0.9 0.9 0 0 -0.75"/><feComposite in2="SourceGraphic" operator="in"/></filter>
<clipPath id="ccor"><use href="#cor"/></clipPath><clipPath id="csag"><use href="#sag"/></clipPath>
<linearGradient id="bluefade" x1="0" y1="0" x2="0" y2="1"><stop offset="0" stop-color="#5fa4e8"/><stop offset="0.5" stop-color="#86bcee"/><stop offset="1" stop-color="#94c6f0"/></linearGradient>
</defs>
<text x="309.7" y="216.4" font-size="5.4" class="b" fill="#333">3 mm</text>
<line x1="308.5" y1="219.3" x2="327.7" y2="219.3" stroke="#888" stroke-width="0.5"/>
<text x="309.7" y="326.1" font-size="5.4" class="b" fill="#333">3 mm</text>
<line x1="308.5" y1="329.0" x2="327.7" y2="329.0" stroke="#888" stroke-width="0.5"/>
<path d="M377.7 226.4 C374 225.2 370 224.9 366.5 225 C362 225.1 357 225.8 353.2 227.1 C349.5 228.5 346 230.4 343.2 232.9 C340.2 235.3 337.6 238 335.8 241.2 C333.8 244.5 332.6 248.2 332.5 252 C332.5 255.8 333.4 259.5 335 262.8 C336.6 266 339 268.8 341.6 271.1 C343.8 273.8 345.8 276.5 348.2 278.5 C351.2 280.6 354.6 281.8 358.2 282.3 C361.5 282.7 365 282.5 368.1 281.8 C369.9 281.5 371.6 281 373.1 280.2 C373.6 281.5 374 282.6 374.8 283.5 C377.3 285 380.2 285.8 383 286 C385.8 286.2 388.6 286 391.3 285.2 C395.5 284 399.6 282 402.9 279.4 C406.4 276.2 409.2 272.2 411.2 267.7 C413.2 263.5 414.8 259 415.4 254.5 C415.8 250.6 415.9 246.7 415.4 242.9 C414.5 239.4 412.4 236.2 409.6 233.8 C406.8 230.8 403.4 228.6 399.6 227.1 C395.9 225.7 391.9 225 388 225 C385.2 224.9 382.4 225 379.7 225.5 C379 225.8 378.3 226 377.7 226.4Z" fill="url(#bluefade)" filter="url(#bl05)"/>
<clipPath id="cbc"><path d="M377.7 226.4 C374 225.2 370 224.9 366.5 225 C362 225.1 357 225.8 353.2 227.1 C349.5 228.5 346 230.4 343.2 232.9 C340.2 235.3 337.6 238 335.8 241.2 C333.8 244.5 332.6 248.2 332.5 252 C332.5 255.8 333.4 259.5 335 262.8 C336.6 266 339 268.8 341.6 271.1 C343.8 273.8 345.8 276.5 348.2 278.5 C351.2 280.6 354.6 281.8 358.2 282.3 C361.5 282.7 365 282.5 368.1 281.8 C369.9 281.5 371.6 281 373.1 280.2 C373.6 281.5 374 282.6 374.8 283.5 C377.3 285 380.2 285.8 383 286 C385.8 286.2 388.6 286 391.3 285.2 C395.5 284 399.6 282 402.9 279.4 C406.4 276.2 409.2 272.2 411.2 267.7 C413.2 263.5 414.8 259 415.4 254.5 C415.8 250.6 415.9 246.7 415.4 242.9 C414.5 239.4 412.4 236.2 409.6 233.8 C406.8 230.8 403.4 228.6 399.6 227.1 C395.9 225.7 391.9 225 388 225 C385.2 224.9 382.4 225 379.7 225.5 C379 225.8 378.3 226 377.7 226.4Z"/></clipPath>
<g clip-path="url(#cbc)">
<path d="M377.7 226.4 C374 225.2 370 224.9 366.5 225 C362 225.1 357 225.8 353.2 227.1 C349.5 228.5 346 230.4 343.2 232.9 C340.2 235.3 337.6 238 335.8 241.2 C333.8 244.5 332.6 248.2 332.5 252 C332.5 255.8 333.4 259.5 335 262.8 C336.6 266 339 268.8 341.6 271.1 C343.8 273.8 345.8 276.5 348.2 278.5 C351.2 280.6 354.6 281.8 358.2 282.3 C361.5 282.7 365 282.5 368.1 281.8 C369.9 281.5 371.6 281 373.1 280.2 C373.6 281.5 374 282.6 374.8 283.5 C377.3 285 380.2 285.8 383 286 C385.8 286.2 388.6 286 391.3 285.2 C395.5 284 399.6 282 402.9 279.4 C406.4 276.2 409.2 272.2 411.2 267.7 C413.2 263.5 414.8 259 415.4 254.5 C415.8 250.6 415.9 246.7 415.4 242.9 C414.5 239.4 412.4 236.2 409.6 233.8 C406.8 230.8 403.4 228.6 399.6 227.1 C395.9 225.7 391.9 225 388 225 C385.2 224.9 382.4 225 379.7 225.5 C379 225.8 378.3 226 377.7 226.4Z" fill="none" stroke="#5098e4" stroke-width="1.6" filter="url(#bl05)"/>
<path d="M340 228 C352 223 402 223 412 230 L414 236 C400 230 352 230 338 236Z" fill="#5a9fe6" opacity="0.8" filter="url(#bl1)"/>
<path d="M348.2 259.5 C345.8 253 346.8 246 350 243.5 C353.5 241.3 358 242 362 244 C366.5 246.5 370 249.5 373 251.5 C376 249.5 379 246.5 383.5 244.5 C388 242.3 393 241.5 396.5 244 C399.8 247 400.5 254 397.5 262" fill="none" stroke="#4e96e2" stroke-width="2.6" filter="url(#bl05)"/>
<path d="M351.5 262 C349.5 254 351 248 355 247.3 C360 247 365 252 366.5 262Z" fill="#a4cef3" filter="url(#bl1)"/>
<path d="M379.5 262 C381 252 386 247 391 247.3 C395 248 396.5 254 394.5 262Z" fill="#a4cef3" filter="url(#bl1)"/>
<path d="M376.9 226V248" stroke="#cfe6fa" stroke-width="0.9"/>
<circle cx="376.2" cy="241.3" r="2.1" fill="#b4d8f6" stroke="#3f8ade" stroke-width="0.8"/>
<path d="M352 280.3 q6 2.2 12 1 M380 285 q8 1.6 14 -1.5" stroke="#2f78d4" stroke-width="1.8" fill="none" filter="url(#bl05)"/>
<path d="M340 270 q6 -2 9 4 M404 276 q3 -6 8 -5" stroke="#5a9fe4" stroke-width="1" fill="none" filter="url(#bl05)"/>
<circle cx="358.5" cy="271.5" r="1.1" fill="#3a88dc"/><circle cx="384.5" cy="272" r="1.1" fill="#3a88dc"/>
<path d="M380 226.5 h14" stroke="#3a84dc" stroke-width="1.4" filter="url(#bl05)"/>
</g>
<path id="bsag" d="M340 335.1 C342 333 346 332 350.5 331.6 C357 330.3 363 329.2 369.8 329 C375 329.3 379 331.4 383.8 331.6 C388 331.4 392 330.2 396.1 329.9 C400 329.8 403.5 330.2 406.6 331.6 C409.5 333.5 411.6 336.3 412.7 339.5 C413.6 343 413.8 346.5 413.6 350 C413.2 353.6 411.8 357.2 410.1 360.5 C408.2 364.3 405.8 367.8 403.1 371 C400.2 374.3 396.6 377 392.6 379 C388.8 380.9 384.5 382 380.3 382.4 C375.5 382.6 370.8 382 366.3 380.7 C362.5 379.3 359 377.2 355.8 374.6 C353.8 373.6 351.6 373.6 349.7 372.8 C347.2 371.2 345.3 368.6 344.4 365.8 C343.2 361.8 342.6 357.6 342.7 353.5 C342.9 350.5 344 347.6 344.4 344.8 C342.5 344.2 340.3 343 339.2 341.3 C338.8 339.2 339.2 337 340 335.1Z" fill="#80b8ec" filter="url(#bl05)"/>
<clipPath id="cbsag"><path d="M340 335.1 C342 333 346 332 350.5 331.6 C357 330.3 363 329.2 369.8 329 C375 329.3 379 331.4 383.8 331.6 C388 331.4 392 330.2 396.1 329.9 C400 329.8 403.5 330.2 406.6 331.6 C409.5 333.5 411.6 336.3 412.7 339.5 C413.6 343 413.8 346.5 413.6 350 C413.2 353.6 411.8 357.2 410.1 360.5 C408.2 364.3 405.8 367.8 403.1 371 C400.2 374.3 396.6 377 392.6 379 C388.8 380.9 384.5 382 380.3 382.4 C375.5 382.6 370.8 382 366.3 380.7 C362.5 379.3 359 377.2 355.8 374.6 C353.8 373.6 351.6 373.6 349.7 372.8 C347.2 371.2 345.3 368.6 344.4 365.8 C343.2 361.8 342.6 357.6 342.7 353.5 C342.9 350.5 344 347.6 344.4 344.8 C342.5 344.2 340.3 343 339.2 341.3 C338.8 339.2 339.2 337 340 335.1Z"/></clipPath>
<g clip-path="url(#cbsag)">
<path d="M336 326 H416 V342 C400 337 372 338 340 346Z" fill="#6eace8" opacity="0.8" filter="url(#bl1)"/>
<path d="M340 335.1 C342 333 346 332 350.5 331.6 C357 330.3 363 329.2 369.8 329 C375 329.3 379 331.4 383.8 331.6 C388 331.4 392 330.2 396.1 329.9 C400 329.8 403.5 330.2 406.6 331.6 C409.5 333.5 411.6 336.3 412.7 339.5 C413.6 343 413.8 346.5 413.6 350 C413.2 353.6 411.8 357.2 410.1 360.5 C408.2 364.3 405.8 367.8 403.1 371 C400.2 374.3 396.6 377 392.6 379 C388.8 380.9 384.5 382 380.3 382.4 C375.5 382.6 370.8 382 366.3 380.7 C362.5 379.3 359 377.2 355.8 374.6 C353.8 373.6 351.6 373.6 349.7 372.8 C347.2 371.2 345.3 368.6 344.4 365.8 C343.2 361.8 342.6 357.6 342.7 353.5 C342.9 350.5 344 347.6 344.4 344.8 C342.5 344.2 340.3 343 339.2 341.3 C338.8 339.2 339.2 337 340 335.1Z" fill="none" stroke="#5a9ee4" stroke-width="1.6" filter="url(#bl05)"/>
<ellipse cx="366" cy="356" rx="11" ry="10" fill="none" stroke="#5a9fe4" stroke-width="1.5" filter="url(#bl05)" opacity="0.55"/>
<ellipse cx="366.5" cy="356.5" rx="4" ry="3.4" fill="none" stroke="#6aaae8" stroke-width="1" filter="url(#bl05)" opacity="0.6"/>
<path d="M383 346 C380 354 382 366 390 372 C398 368 406 358 407 346 C400 340 390 340 383 346Z" fill="none" stroke="#5a9fe4" stroke-width="1.4" filter="url(#bl05)" opacity="0.55"/>
<path d="M360 378 q12 4 26 1" stroke="#cfe5f8" stroke-width="1.3" fill="none" filter="url(#bl05)"/>
<path d="M346 346 q8 -3 16 -1" stroke="#d8eaf9" stroke-width="1" fill="none" filter="url(#bl05)"/>
</g>
<path d="M317.5 370 C321 366.5 328 365.5 334 366.5 C340 367.5 346 369 349.5 372.5 C351 375 350 378 347 379.5 C341 381.5 331 381 324 379.5 C320 378.5 316.5 376.5 316.4 373.5 C316.4 372 316.8 371 317.5 370Z" fill="#4a98e2" filter="url(#bl05)"/>
<clipPath id="ccb"><ellipse cx="329.5" cy="350.5" rx="13.2" ry="14.6"/></clipPath>
<ellipse cx="329.5" cy="350.5" rx="12.8" ry="14.2" fill="#f2f7fc" stroke="#3f8ade" stroke-width="1.3" stroke-dasharray="5 2.5" filter="url(#bl05)"/>
<g clip-path="url(#ccb)" stroke="#2a7ad6" stroke-width="3" fill="none" stroke-linecap="round" filter="url(#bl05)">
<path d="M332 357 C326 352 320 347 317.5 341"/><path d="M333.5 355 C329 349 325.5 343 325 337"/><path d="M335.5 354 C333.5 347 333 342 333.5 336.5"/><path d="M337.5 355 C339.5 350 340.5 346 340.5 341"/><path d="M331 359.5 C326 359 320.5 357 317 352.5"/><path d="M331.5 362 C327 364 322 364.5 318 362"/><path d="M339 357.5 C341 356 342.5 353.5 343 350"/><path d="M338 361 q3 1.5 5 -1"/><path d="M334 364.5 q3 1 6 -0.5"/>
</g>
<circle cx="335" cy="358.5" r="3" fill="#2a7ad6" filter="url(#bl05)"/>
<circle cx="351.5" cy="378" r="1.3" fill="#3a88dc"/>
<rect x="429.2" y="211.2" width="120.2" height="87.3" fill="#d9d9d9"/>
<rect x="429.2" y="211.2" width="120.2" height="87.3" fill="#555" filter="url(#nz)" opacity="0.22"/>
<use href="#cor" fill="#585858" filter="url(#bl05)"/>
<g clip-path="url(#ccor)">
<path d="M474.6 226.3h13.8 M500 227h15 M465.5 280h13.5 M492 284.8h11.5" stroke="#2c2c2c" stroke-width="2.2" filter="url(#bl05)"/>
<path d="M462 262 C460 248 466 242 474 242 C482 242 486 246 490 250 C494 246 498 242 506 242 C514 242 520 248 518 262" fill="none" stroke="#6e6e6e" stroke-width="2.2" filter="url(#bl1)" opacity="0.6"/>
<circle cx="492.5" cy="240.7" r="2.4" fill="#333" filter="url(#bl05)"/>
<use href="#cor" fill="#000" filter="url(#nz)" opacity="0.2"/>
</g>
<path d="M458 216l3 1M470 217.5l3 .6M471 292.5l3 1" stroke="#666" stroke-width="0.9"/>
<rect x="429.8" y="318.2" width="119.9" height="80.6" fill="#d9d9d9"/>
<rect x="429.8" y="318.2" width="119.9" height="80.6" fill="#555" filter="url(#nz)" opacity="0.22"/>
<use href="#sag" fill="#4c4c4c" filter="url(#bl05)"/>
<g clip-path="url(#csag)">
<path d="M436 334 H459 C466 345 468 360 468 382 L436 382Z" fill="#6c6c6c" filter="url(#bl1)"/>
<path d="M470 346 q12 -4 24 1" stroke="#333" stroke-width="3" fill="none" filter="url(#bl1)"/>
<path d="M442 352 q6 -6 14 -8 M440 362 q8 -4 18 -6 M444 372 q8 0 16 -6 M450 342 q4 6 4 14" stroke="#5a5a5a" stroke-width="1.8" fill="none" filter="url(#bl1)" opacity="0.7"/>
<ellipse cx="478" cy="356" rx="6" ry="7" fill="#5e5e5e" filter="url(#bl2)" opacity="0.8"/>
<path d="M480 372 q14 9 34 2" stroke="#3a3a3a" stroke-width="4" fill="none" filter="url(#bl1)"/>
<ellipse cx="497" cy="344" rx="22" ry="7" fill="#404040" filter="url(#bl2)" opacity="0.8"/>
<circle cx="490.3" cy="355.5" r="1.8" fill="none" stroke="#2a2a2a" stroke-width="0.9"/>
<circle cx="516.2" cy="354.5" r="2" fill="none" stroke="#2a2a2a" stroke-width="0.9"/>
<circle cx="460.7" cy="372.3" r="2" fill="none" stroke="#2a2a2a" stroke-width="0.9"/>
<use href="#sag" fill="#000" filter="url(#nz)" opacity="0.2"/>
</g>
<path d="M533 397.5 q2 -1.8 5 -1.5" stroke="#444" stroke-width="1.1" fill="none"/>
<rect x="559" y="211.2" width="120.8" height="87.5" fill="#2686e8"/>
<rect x="559" y="211.2" width="120.8" height="87.5" fill="#1050c0" filter="url(#nz)" opacity="0.3"/>
<g transform="translate(130.2 0.4)">
<use href="#cor" fill="#4a9a30" stroke="#4a9a30" stroke-width="1.6" filter="url(#bl05)"/>
<use href="#cor" fill="#b8401a"/>
<g clip-path="url(#ccor)">
<path d="M474.6 226.3h13.8 M500 227h15 M465.5 280h13.5 M492 284.8h11.5" stroke="#4a1208" stroke-width="2.2" filter="url(#bl05)"/>
<path d="M462 262 C460 248 466 242 474 242 C482 242 486 246 490 250 C494 246 498 242 506 242 C514 242 520 248 518 262" fill="none" stroke="#c8702a" stroke-width="1.6" filter="url(#bl1)"/>
<circle cx="492.5" cy="240.7" r="2.4" fill="#4a1208" filter="url(#bl05)"/>
<use href="#cor" fill="#501000" filter="url(#nz)" opacity="0.3"/>
</g></g>
<rect x="559.2" y="318" width="121" height="80.8" fill="#d84ee0"/>
<rect x="559.2" y="318" width="121" height="80.8" fill="#a030d0" filter="url(#nz)" opacity="0.3"/>
<g transform="translate(129.8 0)">
<use href="#sag" fill="#38a0ee" stroke="#38a0ee" stroke-width="3.2" stroke-linejoin="round" filter="url(#bl05)"/>
<use href="#sag" fill="#4a9a34" stroke="#4a9a34" stroke-width="0.8" stroke-linejoin="round"/>
<g clip-path="url(#csag)">
<path d="M462 330 H540 V388 H470 C470 372 468 350 462 330Z" fill="#c43a1a" filter="url(#bl1)"/>
<path d="M436 334 H458 C464 345 468 360 468 384 L436 384Z" fill="#7a9a30" filter="url(#bl1)"/>
<ellipse cx="445.2" cy="341" rx="3" ry="2" fill="#c8401c" filter="url(#bl05)"/>
<ellipse cx="441.5" cy="353" rx="2.5" ry="3.5" fill="#c8401c" filter="url(#bl05)"/>
<ellipse cx="444.5" cy="363" rx="3.5" ry="2" fill="#c8401c" filter="url(#bl05)"/>
<ellipse cx="461" cy="360" rx="2.5" ry="3.5" fill="#c8401c" filter="url(#bl05)"/>
<ellipse cx="460.5" cy="373" rx="2.6" ry="3.2" fill="#c8401c" filter="url(#bl05)"/>
<ellipse cx="455" cy="347" rx="3" ry="2" fill="#c8401c" filter="url(#bl05)"/>
<ellipse cx="450" cy="356" rx="2" ry="2" fill="#c8401c" filter="url(#bl05)"/>
<ellipse cx="452" cy="368" rx="3" ry="1.6" fill="#c8401c" filter="url(#bl05)"/>
<path d="M503 340 C508 350 508 364 504 376" stroke="#8c8a28" stroke-width="6" fill="none" filter="url(#bl2)" opacity="0.85"/>
<path d="M474 366 C484 376 496 380 508 378" stroke="#8c8a28" stroke-width="7" fill="none" filter="url(#bl2)" opacity="0.85"/>
<path d="M470 350 q6 4 10 2" stroke="#6a9a30" stroke-width="3" fill="none" filter="url(#bl1)"/>
<ellipse cx="524" cy="366" rx="6" ry="5" fill="#a87824" filter="url(#bl2)" opacity="0.7"/>
<ellipse cx="489.5" cy="355" rx="7" ry="7.5" fill="#a82412" filter="url(#bl1)"/>
<ellipse cx="486" cy="345" rx="8" ry="4" fill="#a82412" filter="url(#bl1)"/>
<ellipse cx="515.5" cy="354" rx="5" ry="5" fill="#b02a14" filter="url(#bl1)"/>
<path d="M486 336 H530" stroke="#a82412" stroke-width="4" filter="url(#bl1)"/>
<path d="M529 340 q3 8 0 14" stroke="#9a2010" stroke-width="3" fill="none" filter="url(#bl1)"/>
<path d="M468 345.5 h5" stroke="#5a100a" stroke-width="2" filter="url(#bl05)"/>
<circle cx="489.3" cy="355.5" r="2" fill="none" stroke="#6a140a" stroke-width="0.9"/>
<circle cx="515.3" cy="354" r="2.2" fill="none" stroke="#6a140a" stroke-width="0.9"/>
<circle cx="460.5" cy="373" r="2" fill="none" stroke="#8a1c10" stroke-width="0.9"/>
<circle cx="476" cy="352" r="1.6" fill="#30a0c8" filter="url(#bl05)"/>
<use href="#sag" fill="#501000" filter="url(#nz)" opacity="0.3"/>
</g></g>
<path d="M663 397.5 q2 -1.8 5 -1.5" stroke="#2a8ad0" stroke-width="1.3" fill="none"/>
<rect x="561.6" y="408" width="116.7" height="13.8" fill="url(#cbar)"/>
<text x="560.3" y="431.3" font-size="7.8" fill="#444">0.0</text>
<text x="615.3" y="431.3" font-size="7.8" fill="#444">0.5</text>
<text x="672.7" y="431.3" font-size="7.8" fill="#444">1.0</text>
<text class="t9" x="332.3" y="308.6">corpus callosum</text>
<text class="t9" x="325.4" y="401">cerebellum</text>
<g stroke="#111" stroke-width="1" fill="none">
<path d="M366.2 296.8 L371.6 257.5"/><path d="M365.7 313.5 L389 339.5"/><path d="M343.8 389.5 L330.4 359.3"/>
</g>
<g fill="#111">
<path d="M371.9 255.3 L373.3 260.6 L369.6 260.1Z"/>
<path d="M390.4 341.1 L385.6 338.6 L388.4 336.1Z"/>
<path d="M329.5 357.3 L333.3 361 L329.9 362.5Z"/>
</g>
</g></svg></body></html>
